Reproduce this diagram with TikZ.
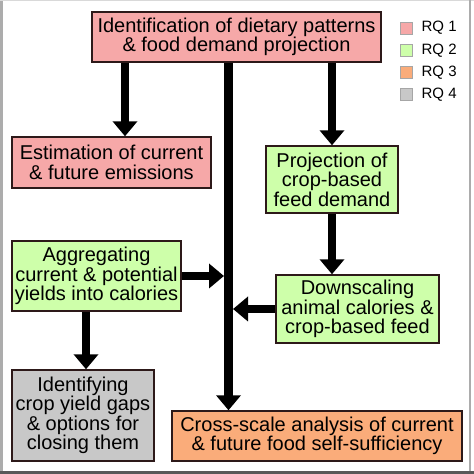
\documentclass[tikz,border=0pt]{standalone}
\usepackage{fontspec}
\setmainfont{Liberation Sans}
\usetikzlibrary{arrows.meta,positioning,calc}

\definecolor{rqpink}{RGB}{246,168,168}
\definecolor{rqgreen}{RGB}{206,255,170}
\definecolor{rqorange}{RGB}{250,172,122}
\definecolor{rqgray}{RGB}{200,200,200}
\definecolor{boxline}{RGB}{45,25,25}

\begin{document}
\begin{tikzpicture}[x=1pt,y=1pt,
    box/.style={draw=boxline, line width=1.4pt, align=center, inner sep=0pt,
        font=\fontsize{20}{19.5}\selectfont},
    flow/.style={line width=8.5pt, -{Triangle[width=24pt,length=15pt]}},
    key/.style={draw=gray!70, line width=0.8pt, minimum size=12pt, inner sep=0pt}]
\useasboundingbox (0,0) rectangle (474,474);
\fill[white] (0,0) rectangle (474,474);
\draw[gray!65, line width=2.5pt] (1.25,0) -- (1.25,474);
\draw[gray!30, line width=1.5pt] (0,473.25) -- (474,473.25);
\draw[gray!65, line width=2pt] (470,0) -- (470,474);
\fill[gray!70!black] (0,0) rectangle (474,3);

\node (top) [box, fill=rqpink, minimum width=289pt, minimum height=50pt] at (236.5,437)
    {Identification of dietary patterns\\\& food demand projection};
\node (emis) [box, fill=rqpink, minimum width=199pt, minimum height=51pt] at (111.5,311.5)
    {Estimation of current\\\& future emissions};
\node (proj) [box, fill=rqgreen, minimum width=132pt, minimum height=67pt] at (332,294.5)
    {Projection of\\crop-based\\feed demand};
\node (agg) [box, fill=rqgreen, minimum width=169pt, minimum height=70pt] at (96.5,198)
    {Aggregating\\current \& potential\\yields into calories};
\node (down) [box, fill=rqgreen, minimum width=163pt, minimum height=68pt] at (357.5,165)
    {Downscaling\\animal calories \&\\crop-based feed};
\node (gaps) [box, fill=rqgray, minimum width=142pt, minimum height=91pt] at (83,58.5)
    {Identifying\\crop yield gaps\\\& options for\\closing them};
\node (self) [box, fill=rqorange, minimum width=290pt, minimum height=50pt] at (317,38)
    {Cross-scale analysis of current\\\& future food self-sufficiency};

\coordinate (spine) at (228.5,0);
\coordinate (spineL) at (224,0);
\coordinate (spineR) at (233,0);

\draw[flow] (top.south -| spine) -- (self.north -| spine);
\draw[flow] ($(emis.north |- top.south)+(13.5,0)$) -- ($(emis.north)+(13.5,0)$);
\draw[flow] (proj.north |- top.south) -- (proj.north);
\draw[flow] (proj.south) -- (proj.south |- down.north);
\draw[flow] (agg.east) -- (agg.east -| spineL);
\draw[flow] (down.west) -- (down.west -| spineR);
\draw[flow] ($(gaps.north |- agg.south)+(3,0)$) -- ($(gaps.north)+(3,0)$);

\foreach \n/\c [count=\i] in {1/rqpink,2/rqgreen,3/rqorange,4/rqgray} {
    \node (k\n) [key, fill=\c] at (406,446-22.3*\i+22.3) {};
    \node (t\n) [right=9pt of k\n, inner sep=0pt, font=\fontsize{15}{15}\selectfont] {RQ \n};
}
\end{tikzpicture}
\end{document}
